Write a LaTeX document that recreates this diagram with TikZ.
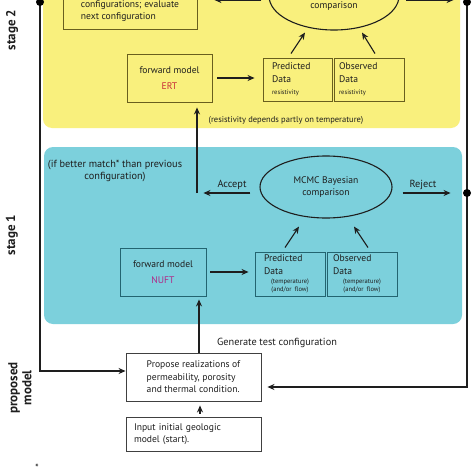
\documentclass[tikz,border=0pt]{standalone}
\usepackage{fontspec}
\setmainfont{PT Sans}
\usetikzlibrary{arrows.meta,shapes.geometric,calc}
\definecolor{ybg}{RGB}{249,240,125}
\definecolor{bbg}{RGB}{124,208,220}
\definecolor{yline}{RGB}{105,95,30}
\definecolor{bline}{RGB}{35,100,112}
\definecolor{ink}{RGB}{30,30,30}
\definecolor{ertred}{RGB}{200,45,55}
\definecolor{nuftmag}{RGB}{175,40,135}
\newcommand{\tinyfont}{\fontsize{6.5}{7}\selectfont}
\begin{document}
\begin{tikzpicture}[x=1pt,y=-1pt,
  font=\fontsize{9.6}{12.5}\selectfont, text=ink,
  ybox/.style={draw=yline, line width=0.9pt, inner sep=0pt},
  bbox/.style={draw=bline, line width=0.9pt, inner sep=0pt},
  gbox/.style={draw=ink!85, line width=0.9pt, inner sep=0pt},
  ell/.style={ellipse, draw=ink, line width=1.1pt, inner sep=0pt, align=center},
  arr/.style={-{Stealth[length=7pt,width=6pt]}, line width=1.1pt, draw=ink},
  dotnode/.style={circle, fill=black, inner sep=0pt, minimum size=8pt},
  lab/.style={font=\fontsize{10.3}{12.5}\selectfont},
  stagelbl/.style={font=\fontsize{13}{14}\selectfont\bfseries, rotate=90, align=center}
]
\useasboundingbox (0,0) rectangle (474,474);
\clip (0,0) rectangle (474,474);
\fill[white] (0,0) rectangle (474,474);

% stage backgrounds
\fill[ybg, rounded corners=9pt] (43,-30) rectangle (460,128);
\fill[bbg, rounded corners=9pt] (44,147) rectangle (462,324);

% side labels
\node[stagelbl] (s2) at (12,30) {stage 2};
\node[stagelbl] (s1) at (12,235) {stage 1};
\node[stagelbl] (s0) at (20,388) {proposed\\model};

% ---- stage 2 ----
\node[ybox, minimum width=134pt, minimum height=36pt, align=left] (evalbox) at (130,11) {configurations; evaluate\\next configuration};
\node[ell, minimum width=130pt, minimum height=68pt] (ell2) at (334,-4) {};
\node (cmp2) at (334,6) {comparison};
\node[ybox, minimum width=85pt, minimum height=48pt, align=center] (ert) at (169.5,78) {forward model\\[3pt]{\color{ertred}ERT}};
\node[ybox, minimum height=43pt, text width=51pt, inner xsep=9pt, align=left] (pred2) at (297.5,79.5) {Predicted\\Data\\[0pt]{\tinyfont resistivity}};
\node[ybox, minimum height=43pt, text width=60pt, inner xsep=5pt, align=left] (obs2) at (369,79.5) {Observed\\Data\\[0pt]{\tinyfont resistivity}};
\node[font=\fontsize{8.5}{10}\selectfont] (resnote) at (286,120) {(resistivity depends partly on temperature)};

\draw[arr] ($(ell2.west)+(-7,4)$) -- ++(-47,0);
\draw[arr] ($(ell2.east)+(6,4)$) -- ++(48,0);
\draw[arr, shorten <=5pt, shorten >=8pt] (ert.east) -- (ert.east -| pred2.west);
\draw[arr] ($(pred2.north)+(-6.5,-4)$) -- ($(pred2.north)+(7.5,-25)$);
\draw[arr] ($(obs2.north)+(6,-4)$) -- ($(obs2.north)+(-7,-25)$);

% ---- stage 1 ----
\node[lab, align=center] (better) at (115,171) {(if better match* than previous\\configuration)};
\node[ell, minimum width=132pt, minimum height=62pt] (ell1) at (326,187) {MCMC Bayesian\\comparison};
\node[bbox, minimum width=86pt, minimum height=48pt, align=center] (nuft) at (163,272) {forward model\\[3pt]{\color{nuftmag}NUFT}};
\node[bbox, minimum height=44pt, text width=52pt, inner xsep=9pt, align=left] (pred1) at (290,274) {Predicted\\Data\\[-3pt]\makebox[\linewidth]{\tinyfont (temperature)}\\[-5pt]\makebox[\linewidth]{\tinyfont (and/or flow)}};
\node[bbox, minimum height=44pt, text width=58pt, inner xsep=6pt, align=left] (obs1) at (362,274) {Observed\\Data\\[-3pt]\makebox[\linewidth]{\tinyfont (temperature)}\\[-5pt]\makebox[\linewidth]{\tinyfont (and/or flow)}};

\coordinate (acc1) at ($(ell1.west)+(-9,6)$);
\coordinate (accturn) at (197,193);
\draw[arr] (acc1) -- ++(-47,0);
\node[lab] (acclbl) at (232,185) {Accept};
\draw[arr, shorten >=5pt] (accturn) -- (accturn |- ert.south);
\draw[arr] ($(ell1.east)+(10,6)$) -- ++(48,0);
\node[lab] (rejlbl) at (423,185) {Reject};
\draw[arr, shorten <=4pt, shorten >=6pt] (nuft.east) -- (nuft.east -| pred1.west);
\draw[arr] ($(pred1.north)+(-5,-4)$) -- ($(pred1.north)+(9,-25)$);
\draw[arr] ($(obs1.north)+(6,-4)$) -- ($(obs1.north)+(-8,-25)$);

% ---- proposed model ----
\node[gbox, minimum width=135pt, minimum height=48pt, align=left] (prop) at (193.5,377) {Propose realizations of\\permeability, porosity\\and thermal condition.};
\node[gbox, minimum height=34pt, text width=119pt, inner xsep=8pt, align=left] (input) at (193.5,434) {Input initial geologic\\model (start).};
\node[lab] (genlbl) at (277,343) {Generate test configuration};
\draw[arr, shorten >=3pt] ($(prop.north)+(5.5,0)$) -- ($(nuft.south)+(36,0)$);
\draw[arr, shorten <=3pt, shorten >=4pt] ($(input.north)+(6.5,0)$) -- ($(prop.south)+(6.5,0)$);

% ---- outer loop lines ----
\coordinate (ldot) at (40,2);
\coordinate (rdot) at (467,2);
\coordinate (rdot1) at (467,193);
\draw[arr] (ldot) |- ($(prop.west)+(0,-6)$);
\draw[arr, shorten >=6pt] (rdot) |- ($(prop.east)+(0,10)$);
\node[dotnode] (d1) at (ldot) {};
\node[dotnode] (d2) at (rdot) {};
\node[dotnode] (d3) at (rdot1) {};

\node[lab, anchor=north, inner sep=0pt] (star) at (37,464) {*};
\end{tikzpicture}
\end{document}
